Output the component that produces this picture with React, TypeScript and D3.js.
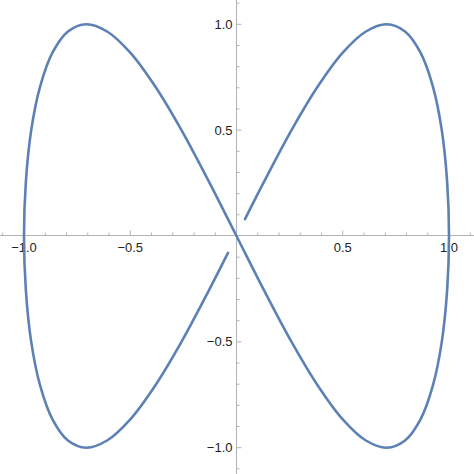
import React, { useEffect, useRef } from 'react';
import * as d3 from 'd3';

// Points (figure-eight), in order along the path
const curveX = [
  0.04, 0.131, 0.259, 0.383, 0.5, 0.609, 0.707, 0.793, 0.866, 0.924, 0.966, 0.991,
  1.0, 0.991, 0.966, 0.924, 0.866, 0.793, 0.707, 0.609, 0.5, 0.383, 0.259, 0.131,
  0.0, -0.131, -0.259, -0.383, -0.5, -0.609, -0.707, -0.793, -0.866, -0.924, -0.966, -0.991,
  -1.0, -0.991, -0.966, -0.924, -0.866, -0.793, -0.707, -0.609, -0.5, -0.383, -0.259, -0.131,
  -0.04,
];
const curveY = [
  0.08, 0.259, 0.5, 0.707, 0.866, 0.966, 1.0, 0.966, 0.866, 0.707, 0.5, 0.259,
  0.0, -0.259, -0.5, -0.707, -0.866, -0.966, -1.0, -0.966, -0.866, -0.707, -0.5, -0.259,
  0.0, 0.259, 0.5, 0.707, 0.866, 0.966, 1.0, 0.966, 0.866, 0.707, 0.5, 0.259,
  0.0, -0.259, -0.5, -0.707, -0.866, -0.966, -1.0, -0.966, -0.866, -0.707, -0.5, -0.259,
  -0.08,
];

const majorTicks = [-1.0, -0.5, 0.5, 1.0];
const minorTicks = [
  -1.1, -0.9, -0.8, -0.7, -0.6, -0.4, -0.3, -0.2, -0.1,
  0.1, 0.2, 0.3, 0.4, 0.6, 0.7, 0.8, 0.9, 1.1,
];

const App: React.FC = () => {
  const ref = useRef<SVGSVGElement>(null);

  useEffect(() => {
    if (!ref.current) return;
    const svg = d3.select(ref.current);
    svg.selectAll('*').remove();

    const width = 474;
    const height = 474;

    // x: 0 at 236.5px, 1 unit = 212.5px ; y: 0 at 236px, 1 unit = 211.7px
    const x = d3.scaleLinear().domain([-1, 1]).range([24, 449]);
    const y = d3.scaleLinear().domain([-1, 1]).range([447.7, 24.3]);

    const axisColor = '#b3b3b3';
    const x0 = x(0);
    const y0 = y(0) - 0.5;

    // axes
    svg.append('line')
      .attr('x1', 0).attr('x2', width)
      .attr('y1', y0).attr('y2', y0)
      .attr('stroke', axisColor).attr('stroke-width', 1);
    svg.append('line')
      .attr('x1', x0).attr('x2', x0)
      .attr('y1', 0).attr('y2', height)
      .attr('stroke', axisColor).attr('stroke-width', 1);

    // x ticks (pointing up)
    const drawXTick = (v: number, len: number) =>
      svg.append('line')
        .attr('x1', x(v)).attr('x2', x(v))
        .attr('y1', y0).attr('y2', y0 - len)
        .attr('stroke', axisColor).attr('stroke-width', 1);
    majorTicks.forEach(v => drawXTick(v, 5));
    minorTicks.forEach(v => drawXTick(v, 3));

    // y ticks (pointing right)
    const drawYTick = (v: number, len: number) =>
      svg.append('line')
        .attr('x1', x0).attr('x2', x0 + len)
        .attr('y1', y(v)).attr('y2', y(v))
        .attr('stroke', axisColor).attr('stroke-width', 1);
    majorTicks.forEach(v => drawYTick(v, 5));
    minorTicks.forEach(v => drawYTick(v, 3));

    const fmt = (v: number) => (v < 0 ? '\u2212' : '') + Math.abs(v).toFixed(1);

    // tick labels
    majorTicks.forEach(v => {
      svg.append('text')
        .attr('x', x(v))
        .attr('y', y0 + 16)
        .attr('text-anchor', 'middle')
        .style('font-family', 'Liberation Sans, Arial, sans-serif')
        .style('font-size', '13px')
        .attr('fill', '#222')
        .text(fmt(v));
      svg.append('text')
        .attr('x', x0 - 4)
        .attr('y', y(v))
        .attr('dy', '0.35em')
        .attr('text-anchor', 'end')
        .style('font-family', 'Liberation Sans, Arial, sans-serif')
        .style('font-size', '13px')
        .attr('fill', '#222')
        .text(fmt(v));
    });

    // curve
    const pts: [number, number][] = curveX.map((cx, i) => [cx, curveY[i]]);
    const line = d3.line<[number, number]>()
      .x(d => x(d[0]))
      .y(d => y(d[1]))
      .curve(d3.curveCatmullRom.alpha(0.5));

    svg.append('path')
      .attr('d', line(pts)!)
      .attr('fill', 'none')
      .attr('stroke', '#5e81b5')
      .attr('stroke-width', 2.6)
      .attr('stroke-linecap', 'round')
      .attr('stroke-linejoin', 'round');
  }, []);

  return (
    <svg
      ref={ref}
      width={474}
      height={474}
      style={{ position: 'absolute', left: 0, top: 0, background: '#fff' }}
    />
  );
};

export default App;
